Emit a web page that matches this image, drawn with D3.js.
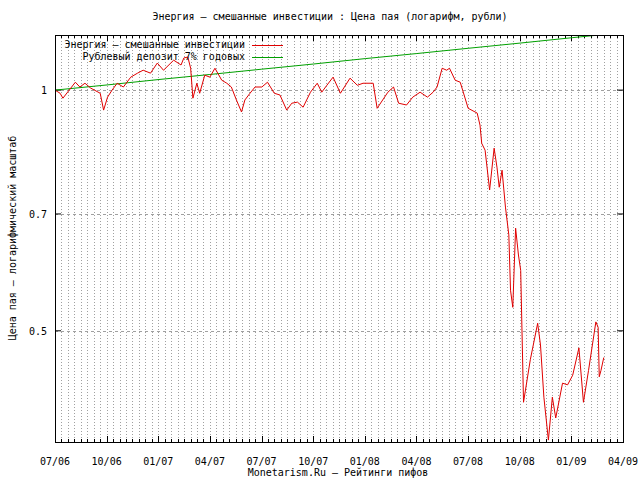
<!DOCTYPE html>
<html>
<head>
<meta charset="utf-8">
<script src="https://d3js.org/d3.v7.min.js"></script>
<style>
  body { margin:0; background:#fff; }
  text { font-family:"DejaVu Sans Mono", monospace; font-size:10px; fill:#000; }
</style>
</head>
<body>
<script>
// months since 07/2006 and unit price (rub)
var fundMonths = [0,.29,.46,1.16,1.45,1.74,2.03,2.61,2.79,3.02,3.31,3.60,3.95,4.36,4.76,5.11,5.52,5.93,6.28,6.86,7.26,7.44,7.67,7.84,8.02,8.25,8.43,8.72,9.01,9.30,9.70,9.99,10.28,10.58,10.87,11.04,11.33,11.62,12.03,12.38,12.78,13.07,13.48,13.77,14.06,14.41,14.82,15.22,15.51,15.80,16.15,16.56,17.14,17.55,17.90,18.48,18.71,19.29,19.64,19.93,20.45,20.80,21.21,21.62,21.96,22.20,22.49,22.78,22.95,23.24,23.53,24.00,24.52,24.69,24.81,24.99,25.22,25.51,25.68,25.80,25.97,26.15,26.32,26.44,26.55,26.73,26.90,27.02,27.19,27.60,28.01,28.18,28.36,28.65,28.88,29.05,29.46,29.75,30.04,30.39,30.68,30.97,31.38,31.49,31.55,31.67,31.84];
var fundValues = [1.0,.991,.977,1.023,1.009,1.020,1.006,.991,.944,.980,1.0,1.020,1.009,1.038,1.050,1.059,1.050,1.081,1.059,1.090,1.075,1.097,1.100,1.065,.977,1.020,.991,1.044,1.038,1.065,1.029,1.020,1.009,.972,.939,.972,.991,1.009,1.009,1.023,.991,.986,.944,.963,.966,.952,.994,1.020,.994,1.014,1.038,.991,1.035,1.014,1.020,1.020,.949,.994,1.009,.963,.958,.980,.994,.980,.994,1.009,1.065,1.059,1.065,1.029,1.023,.949,.936,.904,.858,.841,.750,.846,.801,.756,.794,.714,.659,.562,.535,.672,.622,.595,.407,.460,.511,.480,.413,.365,.413,.389,.430,.428,.440,.476,.407,.446,.513,.505,.438,.446,.463];
var depositMonths = [0,3,6,9,12,15,18,21,24,27,30,33];
var depositValues = [1.000,1.015,1.031,1.046,1.062,1.078,1.095,1.111,1.128,1.145,1.163,1.180];
var xTickLabels = ["07/06","10/06","01/07","04/07","07/07","10/07","01/08","04/08","07/08","10/08","01/09","04/09"];
var yTickValues = [0.5, 0.7, 1];

function toDate(m) {
  var whole = Math.floor(m);
  return new Date(2006, 6 + whole, 1 + Math.round((m - whole) * 30));
}

var W = 640, H = 480;
var pl = 55, pr = 623, pt = 35, pb = 442;

var svg = d3.select("body").append("svg").attr("width", W).attr("height", H);

var x = d3.scaleTime().domain([new Date(2006, 6, 1), new Date(2009, 3, 1)]).range([pl, pr]);
var y = d3.scaleLog().domain([0.363, 1.172]).range([pb, pt]);

// minor vertical grid: 8 per quarter
var t0 = x.domain()[0].getTime(), t1 = x.domain()[1].getTime();
var minor = d3.range(89).map(function(i) { return new Date(t0 + (t1 - t0) * i / 88); });
function px(d) { return Math.round(x(d)) + 0.5; }

svg.append("g").selectAll("line").data(minor).enter().append("line")
  .attr("x1", px).attr("x2", px)
  .attr("y1", pt).attr("y2", pb)
  .attr("stroke", "#a0a0a0").attr("stroke-width", 1).attr("stroke-dasharray", "1,2");

svg.append("g").selectAll("line").data(yTickValues).enter().append("line")
  .attr("x1", pl).attr("x2", pr)
  .attr("y1", function(d) { return Math.round(y(d)) + 0.5; }).attr("y2", function(d) { return Math.round(y(d)) + 0.5; })
  .attr("stroke", "#a0a0a0").attr("stroke-dasharray", "3,3");

// ticks
svg.append("g").selectAll("line").data(minor).enter().append("line")
  .attr("x1", px).attr("x2", px)
  .attr("y1", pb).attr("y2", function(d, i) { return pb - (i % 8 == 0 ? 6 : 3); })
  .attr("stroke", "#000");
svg.append("g").selectAll("line").data(minor).enter().append("line")
  .attr("x1", px).attr("x2", px)
  .attr("y1", pt).attr("y2", function(d, i) { return pt + (i % 8 == 0 ? 6 : 3); })
  .attr("stroke", "#000");
svg.append("g").selectAll("line").data(yTickValues).enter().append("line")
  .attr("x1", pr - 6).attr("x2", pr)
  .attr("y1", function(d) { return y(d); }).attr("y2", function(d) { return y(d); })
  .attr("stroke", "#000");
svg.append("g").selectAll("line").data(yTickValues).enter().append("line")
  .attr("x1", pl).attr("x2", pl + 6)
  .attr("y1", function(d) { return y(d); }).attr("y2", function(d) { return y(d); })
  .attr("stroke", "#000");

svg.append("g").selectAll("text").data(xTickLabels).enter().append("text")
  .attr("x", function(d, i) { return x(minor[i * 8]); }).attr("y", 465)
  .attr("text-anchor", "middle").text(function(d) { return d; });
svg.append("g").selectAll("text").data(yTickValues).enter().append("text")
  .attr("x", 47).attr("y", function(d) { return y(d) + 4; })
  .attr("text-anchor", "end").text(function(d) { return d; });

svg.append("defs").append("clipPath").attr("id", "clip").append("rect")
  .attr("x", pl).attr("y", pt).attr("width", pr - pl).attr("height", pb - pt);

var line = d3.line()
  .x(function(d) { return x(toDate(d[0])); })
  .y(function(d) { return y(d[1]); });

svg.append("path").datum(d3.zip(depositMonths, depositValues))
  .attr("clip-path", "url(#clip)").attr("fill", "none").attr("stroke", "#00a000").attr("d", line);
svg.append("path").datum(d3.zip(fundMonths, fundValues))
  .attr("clip-path", "url(#clip)").attr("fill", "none").attr("stroke", "#e00000").attr("d", line);

svg.append("rect").attr("x", pl + 0.5).attr("y", pt + 0.5)
  .attr("width", pr - pl).attr("height", pb - pt)
  .attr("fill", "none").attr("stroke", "#000");

// legend
var legend = [["Энергия – смешанные инвестиции", "#e00000"], ["Рублевый депозит 7% годовых", "#00a000"]];
legend.forEach(function(l, i) {
  svg.append("text").attr("x", 245).attr("y", 48 + i * 12).attr("text-anchor", "end").text(l[0]);
  svg.append("line").attr("x1", 252).attr("x2", 283)
    .attr("y1", 45.5 + i * 12).attr("y2", 45.5 + i * 12).attr("stroke", l[1]);
});

svg.append("text").attr("x", 330).attr("y", 20).attr("text-anchor", "middle")
  .text("Энергия – смешанные инвестиции : Цена пая (логарифм, рубли)");
svg.append("text").attr("x", 338).attr("y", 476).attr("text-anchor", "middle")
  .text("Monetarism.Ru – Рейтинги пифов");
svg.append("text").attr("transform", "translate(16,238) rotate(-90)").attr("text-anchor", "middle")
  .text("Цена пая – логарифмический масштаб");
</script>
</body>
</html>
